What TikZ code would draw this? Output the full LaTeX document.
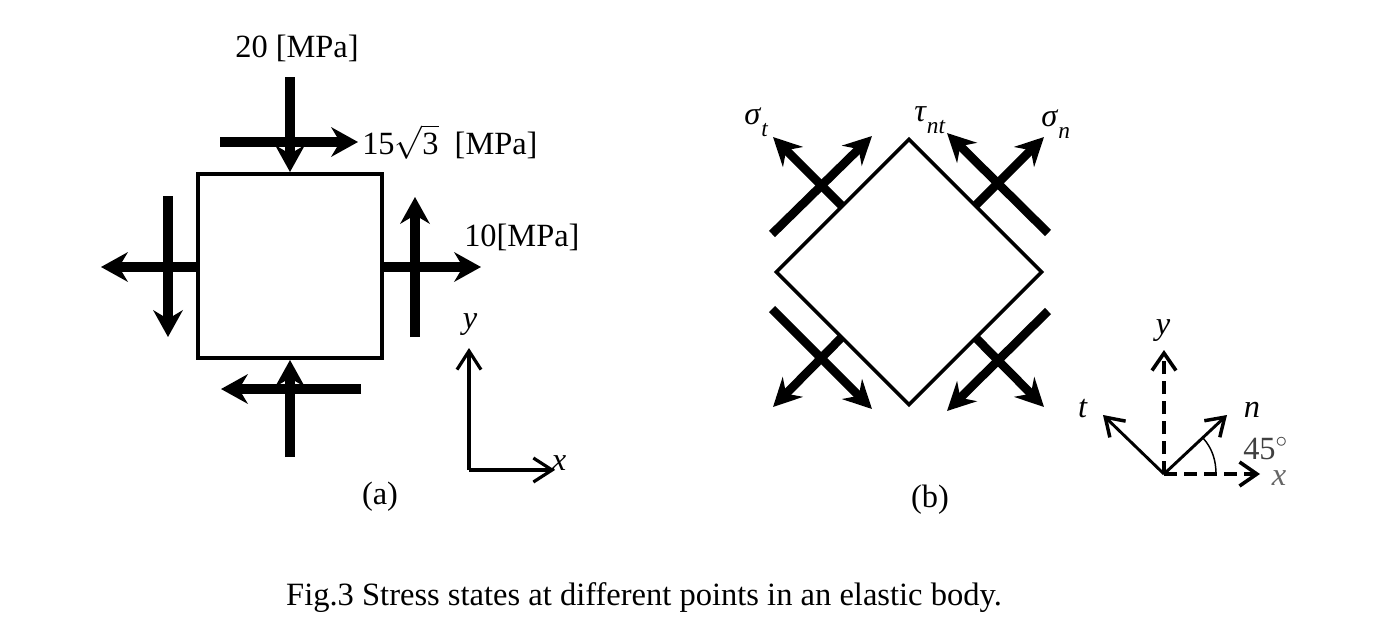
\documentclass[tikz,border=0pt]{standalone}
\usepackage{fontspec}
\setmainfont{Liberation Serif}
\usetikzlibrary{arrows.meta,shapes.geometric}
\newcommand{\subsc}[1]{\raisebox{-9pt}{\fontsize{17.5}{18}\selectfont\textit{#1}}}
\tikzset{
  heavy/.style={line width=7.5pt,-{Stealth[length=20pt,width=22pt,inset=6.5pt]}},
  heavyb/.style={line width=6.5pt,-{Stealth[length=21pt,width=21pt,inset=7pt]}},
  axis/.style={line width=2.4pt,-{Straight Barb[length=14pt,width=18pt,line width=2.4pt]}},
  thin axis/.style={line width=2.2pt,-{Straight Barb[length=13pt,width=17pt,line width=2.6pt]}},
  dash axis/.style={line width=2.7pt,-{Straight Barb[length=13pt,width=18pt,line width=2.7pt]},dash pattern=on 10pt off 5pt},
  lab/.style={inner sep=0pt,font=\fontsize{24.3}{28}\selectfont},
}
\begin{document}
\begin{tikzpicture}[x=0.75pt,y=-0.75pt]
\path[use as bounding box,fill=white] (0,0) rectangle (1400,640);
% Panel (a)
\node[draw,line width=3pt,minimum width=138pt,minimum height=138pt,inner sep=0pt,outer sep=0pt] (sqa) at (290,266) {};
\coordinate (a1s) at (290,77);    \coordinate (a1e) at (290,172);
\coordinate (a2s) at (220,142);   \coordinate (a2e) at (358,142);
\coordinate (a3s) at (197,267);   \coordinate (a3e) at (101,267);
\coordinate (a4s) at (168,196);   \coordinate (a4e) at (168,337);
\coordinate (a5s) at (384,267);   \coordinate (a5e) at (481,267);
\coordinate (a6s) at (415,337);   \coordinate (a6e) at (415,197);
\coordinate (a7s) at (290,457);   \coordinate (a7e) at (290,360);
\coordinate (a8s) at (361,389);   \coordinate (a8e) at (221,389);
\draw[heavy] (a1s) -- (a1e);
\draw[heavy] (a2s) -- (a2e);
\draw[heavy] (a3s) -- (a3e);
\draw[heavy] (a4s) -- (a4e);
\draw[heavy] (a5s) -- (a5e);
\draw[heavy] (a6s) -- (a6e);
\draw[heavy] (a7s) -- (a7e);
\draw[heavy] (a8s) -- (a8e);
\coordinate (ao) at (469,470);
\coordinate (ay) at (469,348);
\coordinate (ax) at (555,470);
\draw[axis] (ao) -- (ay);
\draw[axis] (ao) -- (ax);
\node[lab] (l20) at (297,48) {20 [MPa]};
\node[lab,anchor=west] (l15) at (362,142) {15$\sqrt{\mbox{3}}$\ \ [MPa]};
\node[lab,anchor=west] (l10) at (464,237) {10[MPa]};
\node[lab] (lya) at (470,325) {\textit{y}};
\node[lab] (lxa) at (559,463) {\textit{x}};
\node[lab] (capa) at (380,497) {(a)};
% Panel (b)
\node[diamond,draw,line width=2.7pt,aspect=1,minimum width=199pt,minimum height=199pt,inner sep=0pt,outer sep=0pt] (dia) at (909,272) {};
\coordinate (b1s) at (772,234);   \coordinate (b1e) at (872,136);
\coordinate (b2s) at (842,206);   \coordinate (b2e) at (773,137);
\coordinate (b3s) at (975,206);   \coordinate (b3e) at (1044,137);
\coordinate (b4s) at (1048,233);  \coordinate (b4e) at (947,133);
\coordinate (b5s) at (772,309);   \coordinate (b5e) at (872,409);
\coordinate (b6s) at (842,337);   \coordinate (b6e) at (773,407);
\coordinate (b7s) at (1048,311);  \coordinate (b7e) at (947,411);
\coordinate (b8s) at (975,337);   \coordinate (b8e) at (1044,407);
\foreach \n in {1,...,8}{\draw[heavyb] (b\n s) -- (b\n e);}
\node[lab,anchor=base west] (lst) at (744,124) {\textit{σ}\subsc{t}};
\node[lab,anchor=base west] (ltn) at (914,121) {\textit{τ}\subsc{nt}};
\node[lab,anchor=base west] (lsn) at (1041,126) {\textit{σ}\subsc{n}};
\node[lab] (capb) at (930,500) {(b)};
\coordinate (bo) at (1164,474);
\coordinate (by) at (1164,350);
\coordinate (bx) at (1260,474);
\coordinate (bt) at (1103,415);
\coordinate (bn) at (1227,415);
\coordinate (ba) at (1216,474);
\coordinate (bb) at (1203,438);
\draw[dash axis] (bo) -- (by);
\draw[dash axis] (bo) -- (bx);
\draw[thin axis] (bo) -- (bt);
\draw[thin axis] (bo) -- (bn);
\draw[line width=1.1pt] (ba) .. controls (1216,460) and (1212,448) .. (bb);
\node[lab] (lyb) at (1163,331) {\textit{y}};
\node[lab] (ltb) at (1083,409) {\textit{t}};
\node[lab] (lnb) at (1252,410) {\textit{n}};
\node[lab,text=black!75,anchor=west] (l45) at (1243,449) {45$^{\circ}$};
\node[lab,text=black!60] (lxb) at (1279,478) {\textit{x}};
% Caption
\node[lab,font=\fontsize{24.4}{28}\selectfont] (cap) at (644,598) {Fig.3 Stress states at different points in an elastic body.};
\end{tikzpicture}
\end{document}
